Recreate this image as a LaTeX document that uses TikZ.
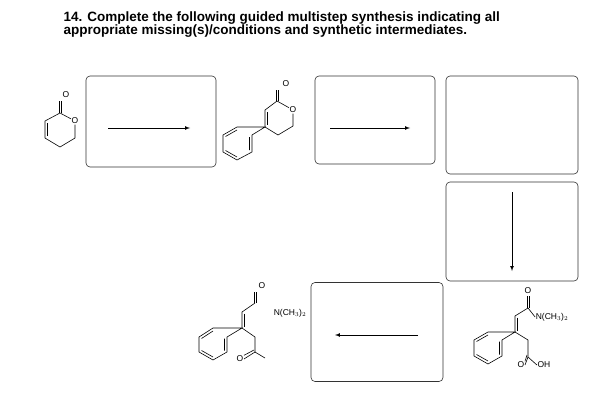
\documentclass[tikz,border=0pt]{standalone}
\usepackage{fontspec}
\setmainfont{Liberation Sans}
\begin{document}
\begin{tikzpicture}[x=1pt,y=-1pt,
  bx/.style={draw=black!80,rounded corners=4pt,line width=0.6pt},
  ar/.style={-latex,line width=0.7pt},
  bd/.style={line width=0.6pt},
  atm/.style={inner sep=0.5pt,font=\fontsize{8.5}{9}\selectfont}]
\useasboundingbox (0,0) rectangle (616,412);
\node[anchor=north west,align=left,font=\bfseries\fontsize{13.5}{13}\selectfont] (title) at (60,8) {14. Complete the following guided multistep synthesis indicating all\\appropriate missing(s)/conditions and synthetic intermediates.};
% boxes
\node[bx,minimum width=130,minimum height=91] (b1) at (151,121.5) {};
\node[bx,minimum width=120,minimum height=88] (b2) at (375,120) {};
\node[bx,minimum width=132,minimum height=98] (b3) at (512,125) {};
\node[bx,minimum width=132,minimum height=99] (b4) at (512,231.5) {};
\node[bx,minimum width=132,minimum height=99] (b5) at (377,332) {};
\coordinate (a1s) at (108,128); \coordinate (a1e) at (190,128);
\coordinate (a2s) at (330,128); \coordinate (a2e) at (410,128);
\coordinate (a4s) at (512,192); \coordinate (a4e) at (512,271);
\coordinate (a5s) at (418,335); \coordinate (a5e) at (335,335);
\draw[ar] (a1s)--(a1e); \draw[ar] (a2s)--(a2e); \draw[ar] (a4s)--(a4e); \draw[ar] (a5s)--(a5e);
% molecule 1
\node[atm] (o1) at (75,121) {O};
\node[atm] (o1x) at (66,95) {O};
\draw[bd] (60,113)--(o1) (o1)--(75,138)--(60,147)--(45,138)--(45,121)--(60,113);
\draw[bd] (47.5,123)--(47.5,136);
\draw[bd] (59,113)--(59,101) (61.5,113)--(61.5,101);
% molecule 2
\node[atm] (o2) at (293,110) {O};
\node[atm] (o2x) at (286,84) {O};
\draw[bd] (277,101)--(o2) (o2)--(293,126)--(278,135)--(265,127)--(265,110)--(277,101);
\draw[bd] (267.5,112)--(267.5,125);
\draw[bd] (276,101)--(276,90) (278.5,101)--(278.5,90);
\draw[bd] (265,127)--(252,135)--(252,152)--(237,160)--(223,152)--(223,135)--(237,127)--cycle;
\draw[bd] (249.5,137)--(249.5,150) (237,157)--(225.5,150.5) (225.5,136.5)--(237,130);
% molecule 3
\node[atm] (o3) at (262,286) {O};
\node[atm] (n3) at (290,313) {N(CH$_3$)$_2$};
\node[atm] (o3b) at (240,359) {O};
\draw[bd] (254,303)--(254,292) (256.5,303)--(256.5,292);
\draw[bd] (255,303)--(242,312)--(242,328)--(255,337)--(255,352)--(265,358);
\draw[bd] (244.5,313.5)--(244.5,326.5);
\draw[bd] (255,352)--(o3b.east);
\draw[bd] (254,350)--(o3b.north east);
\draw[bd] (242,328)--(227,337)--(227,352)--(213,360)--(199,352)--(199,337)--(213,328)--cycle;
\draw[bd] (224.5,338.5)--(224.5,350.5) (213,357)--(201.5,350.5) (201.5,338.5)--(213,331);
% molecule 4
\node[atm] (o4) at (528,291) {O};
\node[atm] (n4) at (552,317) {N(CH$_3$)$_2$};
\node[atm] (o4b) at (521,365) {O};
\node[atm] (oh4) at (544,365) {OH};
\draw[bd] (526.8,308)--(526.8,296) (529.3,308)--(529.3,296);
\draw[bd] (n4.west)--(528,308)--(515,316)--(515,332)--(528,340)--(528,357)--(oh4.west);
\draw[bd] (517.5,317.5)--(517.5,330.5);
\draw[bd] (528,357)--(o4b.east) (527,355)--(o4b.north east);
\draw[bd] (515,332)--(502,340)--(502,356)--(488,364)--(474,356)--(474,340)--(488,332)--cycle;
\draw[bd] (499.5,341.5)--(499.5,354.5) (488,361)--(476.5,354.5) (476.5,341.5)--(488,335);
\end{tikzpicture}
\end{document}
